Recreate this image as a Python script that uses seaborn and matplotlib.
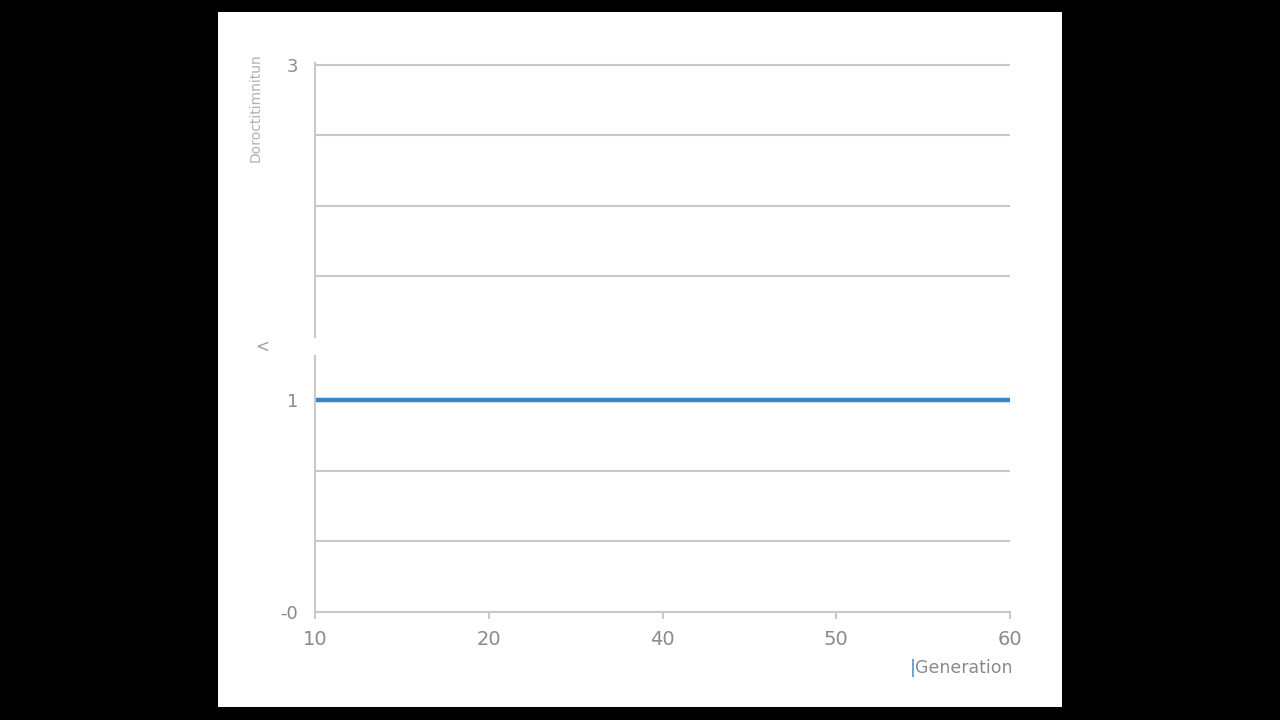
import numpy as np
import pandas as pd
import seaborn as sns
from matplotlib import pyplot as plt
from matplotlib.patches import Rectangle

sns.set_theme(style='white')
plt.rcParams['font.family'] = ['DejaVu Sans']

# 数据
x_labels = ['10', '20', '40', '50', '60']
y_values = [1, 1, 1, 1, 1]
y_grid_low = [0, 1/3, 2/3, 1]
y_grid_high = [2, 7/3, 8/3, 3]
y_label_low = ['-0', '', '', '1']
y_label_high = ['', '', '', '3']

df = pd.DataFrame({'pos': range(len(x_labels)), 'value': y_values})

W, H = 1280, 720
fig = plt.figure(figsize=(12.8, 7.2), dpi=100, facecolor='black')
fig.patches.append(Rectangle((218 / W, 1 - 707 / H), (1062 - 218) / W, (707 - 12) / H,
                             transform=fig.transFigure, facecolor='white', edgecolor='none', zorder=-10))

def px_box(x0, y0, x1, y1):
    return [x0 / W, 1 - y1 / H, (x1 - x0) / W, (y1 - y0) / H]

# 断轴：上下两段
ax_hi = fig.add_axes(px_box(315, 63, 1010, 337))
ax_lo = fig.add_axes(px_box(315, 356, 1010, 612))

grid_c = '#c9c9c9'
tick_c = '#8a8a8a'

for ax in (ax_hi, ax_lo):
    ax.set_facecolor('none')
    ax.set_xlim(0, len(x_labels) - 1)
    for s in ['top', 'right']:
        ax.spines[s].set_visible(False)
    ax.spines['left'].set_color(grid_c)
    ax.spines['left'].set_linewidth(1.5)
    ax.grid(axis='y', color=grid_c, linewidth=1.5)
    ax.set_axisbelow(True)

# 上半段
ax_hi.set_ylim(3 - 274 / 213, 3 + 2 / 213)
ax_hi.set_yticks(y_grid_high)
ax_hi.set_yticklabels(y_label_high)
ax_hi.spines['bottom'].set_visible(False)
ax_hi.set_xticks([])
ax_hi.tick_params(axis='y', length=0, labelsize=13, labelcolor=tick_c, pad=12)

# 下半段
ax_lo.set_ylim(0, 256 / 212)
ax_lo.set_yticks(y_grid_low)
ax_lo.set_yticklabels(y_label_low)
ax_lo.spines['bottom'].set_color(grid_c)
ax_lo.spines['bottom'].set_linewidth(1.5)
ax_lo.tick_params(axis='y', length=0, labelsize=13, labelcolor=tick_c, pad=12)
ax_lo.tick_params(axis='x', bottom=True, direction='out', length=5, width=1.5, color=grid_c,
                  labelsize=14, labelcolor=tick_c, pad=8)

sns.lineplot(data=df, x='pos', y='value', ax=ax_lo, color='#3a86c8', linewidth=3.2)
ax_lo.set_xticks(df['pos'])
ax_lo.set_xticklabels(x_labels)
ax_lo.set_xlabel('')
ax_lo.set_ylabel('')
ax_lo.set_xlim(0, len(x_labels) - 1)

fig.text(262 / W, 1 - 347 / H, '<', color='#a0a0a0', fontsize=12, ha='center', va='center')
fig.text(256 / W, 1 - 108 / H, 'Doroctitimnitun', color='#b0b0b0', fontsize=10,
         rotation=90, ha='center', va='center')
fig.text(910 / W, 1 - 668 / H, '|', color='#3a86c8', fontsize=13, ha='left', va='center')
fig.text(915 / W, 1 - 668 / H, 'Generation', color='#8a8a8a', fontsize=12.5, ha='left', va='center')

fig.savefig('out.png', dpi=100, facecolor='black')
